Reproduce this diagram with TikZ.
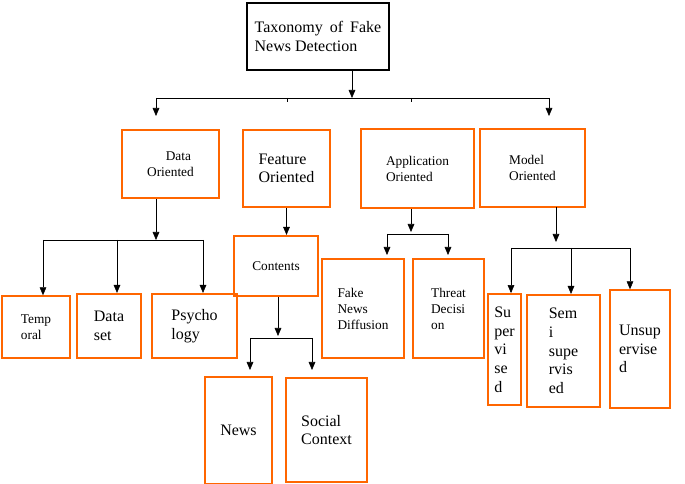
\documentclass[tikz,border=0pt]{standalone}
\usepackage{fontspec}
\setmainfont{Liberation Serif}
\usetikzlibrary{arrows.meta}
\begin{document}
\begin{tikzpicture}[x=0.75pt,y=-0.75pt]
    \tikzstyle{arrow} = [thin,-{Triangle[length=6pt,width=5pt]}]
    \tikzstyle{box} = [draw=orange!80!red, line width=1.6pt, align=left, font=\normalsize, inner sep=2pt]
    \useasboundingbox (0,0) rectangle (685,484);

    % Top box
    \node [draw, line width=1.6pt, minimum width=106pt, minimum height=50pt, text width=95pt, align=justify, font=\large] (Top) at (318,36.5) {Taxonomy\hfill of\hfill Fake\\News Detection};

    % Second level
    \node [box, minimum width=73pt, minimum height=51pt] (Data) at (170.5,164) {\hspace*{14pt}Data\\Oriented};
    \node [box, minimum width=65pt, minimum height=58pt, font=\large] (Feature) at (286.5,168.5) {Feature\\Oriented};
    \node [box, minimum width=85pt, minimum height=59pt] (Application) at (417.5,168.5) {Application\\Oriented};
    \node [box, minimum width=79pt, minimum height=58pt] (Model) at (532.5,168) {Model\\Oriented};

    % Data oriented leaves
    \node [box, minimum width=51pt, minimum height=46pt] (Temporal) at (36,327) {Temp\\oral};
    \node [box, minimum width=48pt, minimum height=48pt, font=\large] (Dataset) at (109,326) {Data\\set};
    \node [box, minimum width=64pt, minimum height=48pt, font=\large] (Psychology) at (194.5,326) {Psycho\\logy};

    % Feature oriented
    \node [box, minimum width=63pt, minimum height=45pt] (Contents) at (276,266) {Contents};
    \node [box, minimum width=50pt, minimum height=80pt, font=\large] (News) at (238.5,430.5) {News};
    \node [box, minimum width=61pt, minimum height=78pt, font=\large] (Social) at (326.5,430) {Social\\Context};

    % Application oriented leaves
    \node [box, minimum width=61pt, minimum height=74pt] (Diffusion) at (363,308.5) {Fake\\News\\Diffusion};
    \node [box, minimum width=53pt, minimum height=74pt] (Threat) at (448.5,308.5) {Threat\\Decisi\\on};

    % Model oriented leaves
    \node [box, minimum width=25pt, minimum height=83pt, inner sep=1pt, font=\large] (Super) at (504.5,349.5) {Su\\per\\vi\\se\\d};
    \node [box, minimum width=55pt, minimum height=84pt, font=\large] (Semi) at (563.5,351) {Sem\\i\\supe\\rvis\\ed};
    \node [box, minimum width=45pt, minimum height=88pt, font=\large] (Unsuper) at (640,349) {Unsup\\ervise\\d};

    % Top connectors
    \coordinate (TopBar) at (352,98);
    \draw [arrow] (Top.south -| TopBar) -- (TopBar);
    \draw (156,98) -- (549,98);
    \draw [arrow] (156,98) -- (156,116);
    \draw [arrow] (549,98) -- (549,116);
    \draw (287,98) -- (287,102);
    \draw (411,98) -- (411,102);

    % Data connectors
    \coordinate (DataBar) at (156,240);
    \draw [arrow] (Data.south -| DataBar) -- (DataBar);
    \draw (43,240) -- (204,240);
    \draw [arrow] (43,240) -- (Temporal.north -| 43,0);
    \draw [arrow] (117,240) -- (Dataset.north -| 117,0);
    \draw [arrow] (203,240) -- (Psychology.north -| 203,0);

    % Feature connectors
    \draw [arrow] (Feature.south) -- (Contents.north -| Feature.south);
    \coordinate (ContBar) at (278,336);
    \draw [arrow] (Contents.south -| ContBar) -- (ContBar);
    \draw (250,338) -- (312,338);
    \draw [arrow] (250,338) -- (250,370);
    \draw [arrow] (312,338) -- (312,370);

    % Application connectors
    \coordinate (AppBar) at (411,232);
    \draw [arrow] (Application.south -| AppBar) -- (AppBar);
    \draw (387,234) -- (448,234);
    \draw [arrow] (387,234) -- (387,255);
    \draw [arrow] (448,234) -- (448,255);

    % Model connectors
    \coordinate (ModelBar) at (556,242);
    \draw [arrow] (556,207) -- (ModelBar);
    \draw (511,248) -- (630,248);
    \draw [arrow] (511,248) -- (Super.north -| 511,0);
    \draw [arrow] (571,248) -- (Semi.north -| 571,0);
    \draw [arrow] (630,248) -- (Unsuper.north -| 630,0);
\end{tikzpicture}
\end{document}
